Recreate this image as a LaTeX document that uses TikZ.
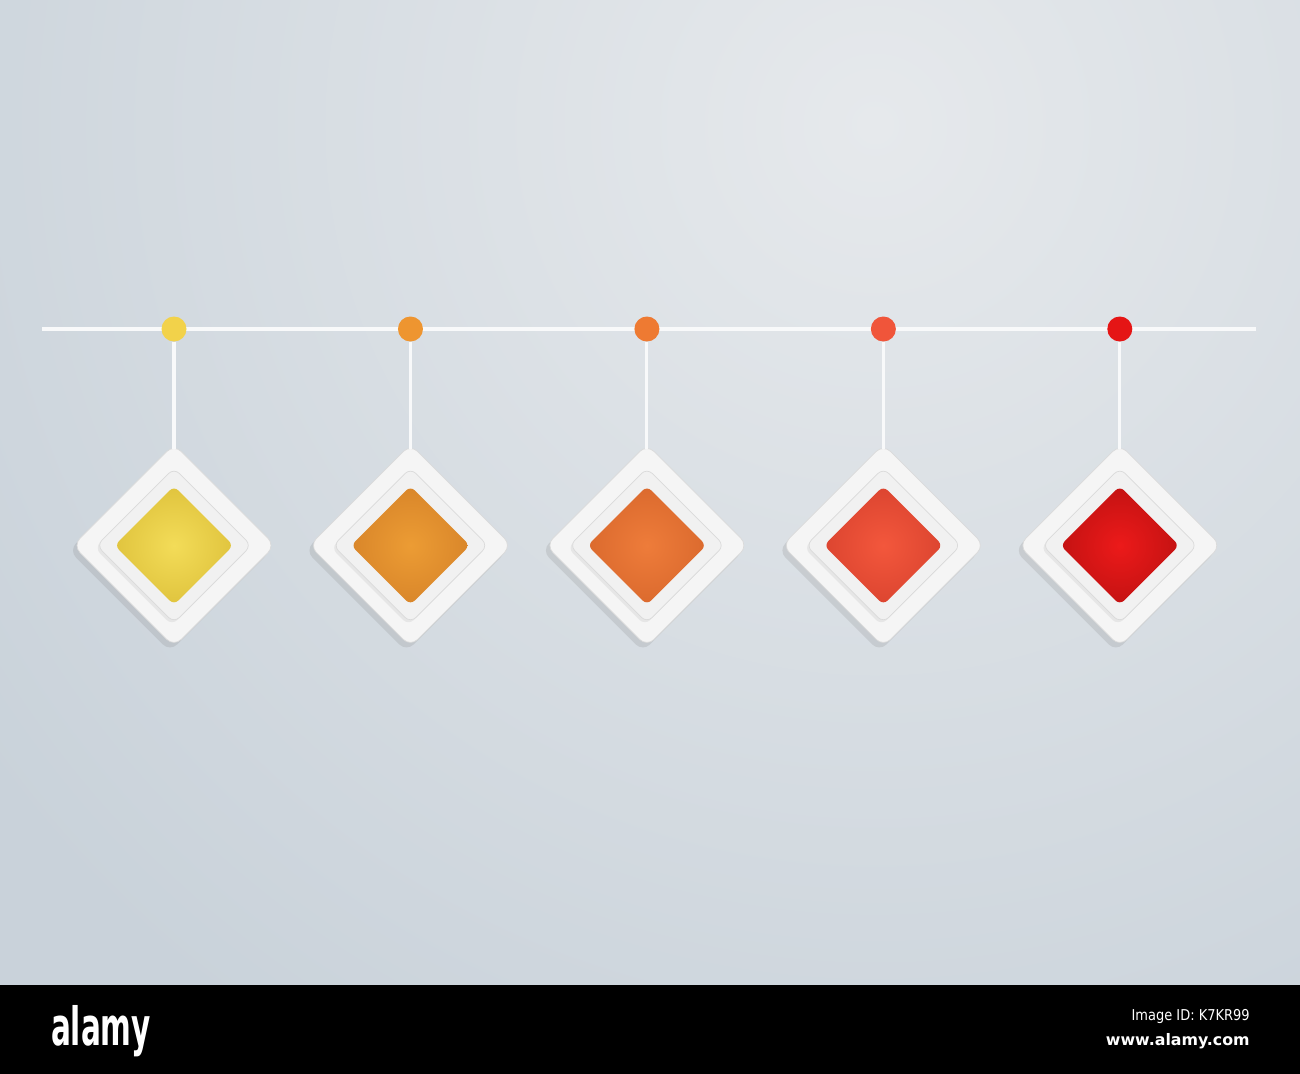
\documentclass[tikz,border=0pt]{standalone}
\usepackage{fontspec}
\newfontfamily\barfont{DejaVu Sans}
\usetikzlibrary{positioning, shapes.geometric, shadows}
\definecolor{bgdark}{HTML}{C9D2DA}
\definecolor{bglight}{HTML}{E6E9EC}
\definecolor{wire}{HTML}{F8F9FA}
\definecolor{framewhite}{HTML}{F5F5F5}
\definecolor{frameedge}{HTML}{DADADA}
\definecolor{midwhite}{HTML}{F1F1F1}
\definecolor{dot1}{HTML}{F2D24A}
\definecolor{dot2}{HTML}{EE9530}
\definecolor{dot3}{HTML}{EE7A32}
\definecolor{dot4}{HTML}{F0553A}
\definecolor{dot5}{HTML}{E51515}
\definecolor{tile1in}{HTML}{F3DC58}
\definecolor{tile1out}{HTML}{E0C43E}
\definecolor{tile2in}{HTML}{EC9C34}
\definecolor{tile2out}{HTML}{D9862A}
\definecolor{tile3in}{HTML}{EE7C3A}
\definecolor{tile3out}{HTML}{DB6A2E}
\definecolor{tile4in}{HTML}{F3573C}
\definecolor{tile4out}{HTML}{DC4530}
\definecolor{tile5in}{HTML}{EC1A1A}
\definecolor{tile5out}{HTML}{C41212}
\tikzstyle{Dot} = [circle, minimum size=0.5cm, inner sep=0pt]
\tikzstyle{Wire} = [draw=wire, line width=2.6pt]
\tikzstyle{String} = [draw=wire, line width=1.8pt, shorten >= -0.1cm]
\tikzstyle{Frame} = [
diamond, minimum size=4.05cm, inner sep=0pt,
rounded corners=0.2cm, fill=framewhite, draw=frameedge,
drop shadow={shadow xshift=-0.08cm, shadow yshift=-0.1cm,
opacity=0.2}]
\tikzstyle{Mid} = [diamond, minimum size=3.1cm, inner sep=0pt,
rounded corners=0.15cm, fill=midwhite, draw=frameedge,
drop shadow={shadow xshift=-0.04cm, shadow yshift=-0.05cm,
opacity=0.12}]
\tikzstyle{Tile} = [diamond, minimum size=2.38cm, inner sep=0pt,
rounded corners=0.12cm]
\tikzstyle{BarText} = [text=white, inner sep=0pt]

\begin{document}
\begin{tikzpicture}
    \useasboundingbox (0,0) rectangle (26,-21.48);
    % background
    \fill[bgdark] (0,0) rectangle (26,-19.7);
    \begin{scope}
        \clip (0,0) rectangle (26,-19.7);
        \shade[inner color=bglight, outer color=bgdark] (17.5,-2.5) circle (22);
    \end{scope}
    \fill[black] (0,-19.7) rectangle (26,-21.48);
    \coordinate (L) at (0.84,-6.58);
    \coordinate (R) at (25.12,-6.58);
    \draw[Wire] (L) -- (R);
    \node[Dot, fill=dot1] (1) at (3.48,-6.58) {};
    \node[Dot, fill=dot2, right=4.215cm of 1] (2) {};
    \node[Dot, fill=dot3, right=4.215cm of 2] (3) {};
    \node[Dot, fill=dot4, right=4.215cm of 3] (4) {};
    \node[Dot, fill=dot5, right=4.215cm of 4] (5) {};
    \node[Frame, below=2.04cm of 1] (f1) {};
    \node[Frame, below=2.04cm of 2] (f2) {};
    \node[Frame, below=2.04cm of 3] (f3) {};
    \node[Frame, below=2.04cm of 4] (f4) {};
    \node[Frame, below=2.04cm of 5] (f5) {};
    \node[Mid] (m1) at (f1) {};
    \node[Mid] (m2) at (f2) {};
    \node[Mid] (m3) at (f3) {};
    \node[Mid] (m4) at (f4) {};
    \node[Mid] (m5) at (f5) {};
    \node[Tile, inner color=tile1in, outer color=tile1out] (t1) at (f1) {};
    \node[Tile, inner color=tile2in, outer color=tile2out] (t2) at (f2) {};
    \node[Tile, inner color=tile3in, outer color=tile3out] (t3) at (f3) {};
    \node[Tile, inner color=tile4in, outer color=tile4out] (t4) at (f4) {};
    \node[Tile, inner color=tile5in, outer color=tile5out] (t5) at (f5) {};
    \draw[String] (1) -- (f1);
    \draw[String] (2) -- (f2);
    \draw[String] (3) -- (f3);
    \draw[String] (4) -- (f4);
    \draw[String] (5) -- (f5);
    % bottom bar
    \node[BarText, font=\barfont\bfseries\fontsize{30}{30}\selectfont] (logo) at (2.02,-20.62) {\scalebox{0.56}[1]{alamy}};
    \node[BarText, anchor=east, font=\barfont\fontsize{8.5}{9}\selectfont] (imgid) at (25.0,-20.33) {\scalebox{0.87}[1]{Image ID: K7KR99}};
    \node[BarText, anchor=east, font=\barfont\bfseries\fontsize{9}{10}\selectfont] (site) at (25.0,-20.82) {www.alamy.com};
\end{tikzpicture}
\end{document}
